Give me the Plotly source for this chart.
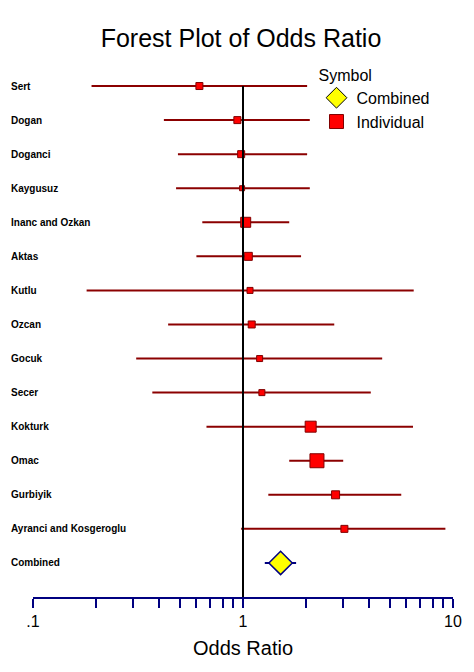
import plotly.graph_objects as go

studies = ["Sert", "Dogan", "Doganci", "Kaygusuz", "Inanc and Ozkan", "Aktas", "Kutlu",
           "Ozcan", "Gocuk", "Secer", "Kokturk", "Omac", "Gurbiyik", "Ayranci and Kosgeroglu"]
odds = [0.62, 0.94, 0.98, 0.99, 1.03, 1.06, 1.08, 1.10, 1.20, 1.23, 2.10, 2.25, 2.76, 3.04]
lower = [0.19, 0.42, 0.49, 0.48, 0.64, 0.60, 0.18, 0.44, 0.31, 0.37, 0.67, 1.66, 1.32, 0.98]
upper = [2.02, 2.08, 2.02, 2.08, 1.66, 1.89, 6.5, 2.72, 4.6, 4.06, 6.45, 3.0, 5.67, 9.2]
weights = [7, 7, 7, 5, 10, 8, 6, 7, 6, 6, 11, 14, 8, 7]
comb_or, comb_lo, comb_hi = 1.51, 1.27, 1.79

ys = list(range(len(studies)))
fig = go.Figure()
fig.add_shape(type="line", x0=1, x1=1, y0=0, y1=15, xref="x", yref="y",
              line=dict(color="black", width=2))
fig.add_trace(go.Scatter(
    x=odds, y=ys, mode="markers", showlegend=False, opacity=1,
    marker=dict(symbol="square", size=weights, color="#ff0000", opacity=1,
                line=dict(color="#800000", width=1)),
    error_x=dict(type="data", symmetric=False,
                 array=[u - o for u, o in zip(upper, odds)],
                 arrayminus=[o - l for o, l in zip(odds, lower)],
                 color="#8b0000", thickness=2, width=0)))
fig.add_trace(go.Scatter(
    x=[comb_or], y=[len(studies)], mode="markers", showlegend=False, opacity=1,
    marker=dict(symbol="diamond", size=18, color="#ffff00", opacity=1,
                line=dict(color="#000080", width=1.5)),
    error_x=dict(type="data", symmetric=False, array=[comb_hi - comb_or],
                 arrayminus=[comb_or - comb_lo], color="#000080", thickness=2, width=0)))
fig.add_trace(go.Scatter(x=[None], y=[None], mode="markers", name="Combined",
    marker=dict(symbol="diamond", size=16, color="#ffff00", line=dict(color="black", width=1))))
fig.add_trace(go.Scatter(x=[None], y=[None], mode="markers", name="Individual",
    marker=dict(symbol="square", size=14, color="#ff0000", line=dict(color="#800000", width=1))))

labels = studies + ["Combined"]
for i, lab in enumerate(labels):
    fig.add_annotation(x=-0.058, xref="paper", y=i, yref="y", text="<b>" + lab + "</b>",
                       showarrow=False, xanchor="left",
                       font=dict(family="Arial", size=10, color="black"))

tv, tt = [], []
for d in [0.1, 1]:
    for k in range(1, 10):
        tv.append(d * k)
        tt.append({0.1: ".1", 1: "1"}[d] if k == 1 else "")
tv.append(10); tt.append("10")

fig.update_layout(
    width=466, height=664, paper_bgcolor="white", plot_bgcolor="white",
    margin=dict(l=25, r=14, t=61, b=75),
    title=dict(text="Forest Plot of Odds Ratio", x=0.5, xanchor="center", y=0.967,
               font=dict(family="Arial", size=25, color="black")),
    xaxis=dict(type="log", range=[-1, 1], tickvals=tv, ticktext=tt, ticks="outside",
               ticklen=9, tickwidth=2, tickcolor="#000080", showline=True, linecolor="#000080",
               linewidth=2, showgrid=False, zeroline=False,
               tickfont=dict(family="Arial", size=16, color="black"),
               title=dict(text="Odds Ratio", font=dict(family="Arial", size=20, color="black"), standoff=12)),
    yaxis=dict(range=[15, -0.5], visible=False, showgrid=False),
    legend=dict(x=0.675, y=1.017, xanchor="left", yanchor="top", bgcolor="rgba(0,0,0,0)",
                title=dict(text="Symbol", font=dict(family="Arial", size=16, color="black")),
                font=dict(family="Arial", size=16, color="black")),
)
fig.write_html("out.html")
